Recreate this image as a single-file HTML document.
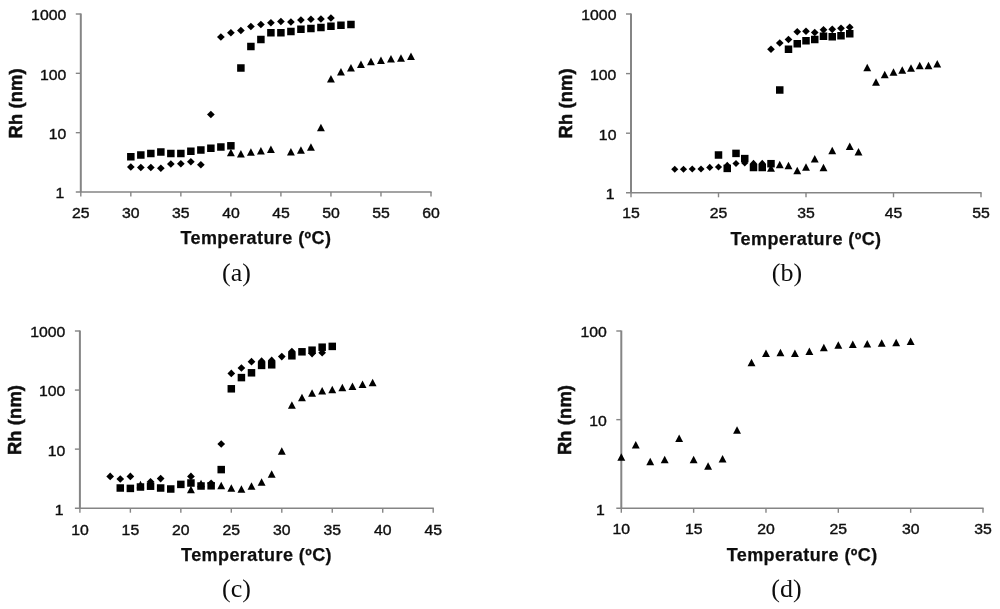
<!DOCTYPE html>
<html><head><meta charset="utf-8"><title>Figure</title>
<style>html,body{margin:0;padding:0;background:#fff}svg{display:block}</style></head>
<body>
<svg width="1000" height="609" viewBox="0 0 1000 609">
<rect width="1000" height="609" fill="#fff"/>
<defs><filter id="b" x="0" y="0" width="100%" height="100%" filterUnits="userSpaceOnUse"><feGaussianBlur stdDeviation="0.55"/></filter></defs><g filter="url(#b)">
<g stroke="#858585" fill="none">
<path d="M80.8 13.5V192.0" stroke-width="2"/>
<path d="M75.8 192.0H431.6" stroke-width="1.6"/>
<path d="M75.8 14.00H80.8" stroke-width="1.4"/>
<path d="M75.8 73.33H80.8" stroke-width="1.4"/>
<path d="M75.8 132.67H80.8" stroke-width="1.4"/>
<path d="M80.80 192.0V196.5" stroke-width="1.4"/>
<path d="M130.83 192.0V196.5" stroke-width="1.4"/>
<path d="M180.86 192.0V196.5" stroke-width="1.4"/>
<path d="M230.89 192.0V196.5" stroke-width="1.4"/>
<path d="M280.91 192.0V196.5" stroke-width="1.4"/>
<path d="M330.94 192.0V196.5" stroke-width="1.4"/>
<path d="M380.97 192.0V196.5" stroke-width="1.4"/>
<path d="M431.00 192.0V196.5" stroke-width="1.4"/>
</g>
<g fill="#111" font-family="Liberation Sans, Arial, sans-serif" font-size="15.6" stroke="#111" stroke-width="0.42">
<text transform="translate(66.20 20.40) scale(1.012 0.95)" text-anchor="end">1000</text>
<text transform="translate(66.20 79.73) scale(1.012 0.95)" text-anchor="end">100</text>
<text transform="translate(66.20 139.07) scale(1.012 0.95)" text-anchor="end">10</text>
<text transform="translate(64.40 198.40) scale(1.012 0.95)" text-anchor="end">1</text>
<text transform="translate(80.80 217.60) scale(1.012 0.95)" text-anchor="middle">25</text>
<text transform="translate(130.83 217.60) scale(1.012 0.95)" text-anchor="middle">30</text>
<text transform="translate(180.86 217.60) scale(1.012 0.95)" text-anchor="middle">35</text>
<text transform="translate(230.89 217.60) scale(1.012 0.95)" text-anchor="middle">40</text>
<text transform="translate(280.91 217.60) scale(1.012 0.95)" text-anchor="middle">45</text>
<text transform="translate(330.94 217.60) scale(1.012 0.95)" text-anchor="middle">50</text>
<text transform="translate(380.97 217.60) scale(1.012 0.95)" text-anchor="middle">55</text>
<text transform="translate(431.00 217.60) scale(1.012 0.95)" text-anchor="middle">60</text>
</g>
<text x="255.90" y="244.30" text-anchor="middle" font-family="Liberation Sans, Arial, sans-serif" font-weight="bold" font-size="18" letter-spacing="0.42" fill="#111" stroke="#111" stroke-width="0.25">Temperature (ºC)</text>
<text transform="translate(21.5 103.4) rotate(-90)" text-anchor="middle" font-family="Liberation Sans, Arial, sans-serif" font-weight="bold" font-size="18.4" letter-spacing="0.1" fill="#111" stroke="#111" stroke-width="0.55">Rh (nm)</text>
<text x="236.5" y="281.3" text-anchor="middle" font-family="Liberation Serif, Times New Roman, serif" font-size="26" fill="#111">(a)</text>
<g fill="#000">
<path d="M130.83 163.15L134.68 167.00L130.83 170.85L126.98 167.00Z"/>
<path d="M140.83 163.65L144.68 167.50L140.83 171.35L136.98 167.50Z"/>
<path d="M150.84 163.65L154.69 167.50L150.84 171.35L146.99 167.50Z"/>
<path d="M160.85 164.40L164.70 168.25L160.85 172.10L157.00 168.25Z"/>
<path d="M170.85 160.15L174.70 164.00L170.85 167.85L167.00 164.00Z"/>
<path d="M180.86 159.90L184.71 163.75L180.86 167.60L177.01 163.75Z"/>
<path d="M190.86 157.90L194.71 161.75L190.86 165.60L187.01 161.75Z"/>
<path d="M200.87 160.90L204.72 164.75L200.87 168.60L197.02 164.75Z"/>
<path d="M210.87 110.65L214.72 114.50L210.87 118.35L207.02 114.50Z"/>
<path d="M220.88 33.15L224.73 37.00L220.88 40.85L217.03 37.00Z"/>
<path d="M230.89 28.90L234.74 32.75L230.89 36.60L227.04 32.75Z"/>
<path d="M240.89 26.65L244.74 30.50L240.89 34.35L237.04 30.50Z"/>
<path d="M250.90 22.65L254.75 26.50L250.90 30.35L247.05 26.50Z"/>
<path d="M260.90 20.65L264.75 24.50L260.90 28.35L257.05 24.50Z"/>
<path d="M270.91 18.90L274.76 22.75L270.91 26.60L267.06 22.75Z"/>
<path d="M280.91 17.65L284.76 21.50L280.91 25.35L277.06 21.50Z"/>
<path d="M290.92 18.15L294.77 22.00L290.92 25.85L287.07 22.00Z"/>
<path d="M300.93 16.15L304.78 20.00L300.93 23.85L297.08 20.00Z"/>
<path d="M310.93 15.40L314.78 19.25L310.93 23.10L307.08 19.25Z"/>
<path d="M320.94 15.15L324.79 19.00L320.94 22.85L317.09 19.00Z"/>
<path d="M330.94 14.15L334.79 18.00L330.94 21.85L327.09 18.00Z"/>
<rect x="127.08" y="153.00" width="7.5" height="7.5"/>
<rect x="137.08" y="151.25" width="7.5" height="7.5"/>
<rect x="147.09" y="149.75" width="7.5" height="7.5"/>
<rect x="157.10" y="148.25" width="7.5" height="7.5"/>
<rect x="167.10" y="149.75" width="7.5" height="7.5"/>
<rect x="177.11" y="149.75" width="7.5" height="7.5"/>
<rect x="187.11" y="147.50" width="7.5" height="7.5"/>
<rect x="197.12" y="146.25" width="7.5" height="7.5"/>
<rect x="207.12" y="144.50" width="7.5" height="7.5"/>
<rect x="217.13" y="143.25" width="7.5" height="7.5"/>
<rect x="227.14" y="142.05" width="7.5" height="7.5"/>
<rect x="237.14" y="64.25" width="7.5" height="7.5"/>
<rect x="247.15" y="42.75" width="7.5" height="7.5"/>
<rect x="257.15" y="35.75" width="7.5" height="7.5"/>
<rect x="267.16" y="29.00" width="7.5" height="7.5"/>
<rect x="277.16" y="29.00" width="7.5" height="7.5"/>
<rect x="287.17" y="27.75" width="7.5" height="7.5"/>
<rect x="297.18" y="25.50" width="7.5" height="7.5"/>
<rect x="307.18" y="24.75" width="7.5" height="7.5"/>
<rect x="317.19" y="23.75" width="7.5" height="7.5"/>
<rect x="327.19" y="22.50" width="7.5" height="7.5"/>
<rect x="337.20" y="21.50" width="7.5" height="7.5"/>
<rect x="347.20" y="20.75" width="7.5" height="7.5"/>
<path d="M230.89 148.85L234.84 156.35L226.94 156.35Z"/>
<path d="M240.89 150.00L244.84 157.50L236.94 157.50Z"/>
<path d="M250.90 148.25L254.85 155.75L246.95 155.75Z"/>
<path d="M260.90 147.00L264.85 154.50L256.95 154.50Z"/>
<path d="M270.91 145.50L274.86 153.00L266.96 153.00Z"/>
<path d="M290.92 148.00L294.87 155.50L286.97 155.50Z"/>
<path d="M300.93 146.25L304.88 153.75L296.98 153.75Z"/>
<path d="M310.93 143.25L314.88 150.75L306.98 150.75Z"/>
<path d="M320.94 123.75L324.89 131.25L316.99 131.25Z"/>
<path d="M330.94 75.00L334.89 82.50L326.99 82.50Z"/>
<path d="M340.95 68.00L344.90 75.50L337.00 75.50Z"/>
<path d="M350.95 64.00L354.90 71.50L347.00 71.50Z"/>
<path d="M360.96 60.50L364.91 68.00L357.01 68.00Z"/>
<path d="M370.97 57.75L374.92 65.25L367.02 65.25Z"/>
<path d="M380.97 56.50L384.92 64.00L377.02 64.00Z"/>
<path d="M390.98 55.00L394.93 62.50L387.03 62.50Z"/>
<path d="M400.98 54.25L404.93 61.75L397.03 61.75Z"/>
<path d="M410.99 52.50L414.94 60.00L407.04 60.00Z"/>
</g>
<g stroke="#858585" fill="none">
<path d="M631 13.5V192.8" stroke-width="2"/>
<path d="M626 192.8H981.6" stroke-width="1.6"/>
<path d="M626 14.00H631" stroke-width="1.4"/>
<path d="M626 73.60H631" stroke-width="1.4"/>
<path d="M626 133.20H631" stroke-width="1.4"/>
<path d="M631.00 192.8V197.3" stroke-width="1.4"/>
<path d="M718.50 192.8V197.3" stroke-width="1.4"/>
<path d="M806.00 192.8V197.3" stroke-width="1.4"/>
<path d="M893.50 192.8V197.3" stroke-width="1.4"/>
<path d="M981.00 192.8V197.3" stroke-width="1.4"/>
</g>
<g fill="#111" font-family="Liberation Sans, Arial, sans-serif" font-size="15.6" stroke="#111" stroke-width="0.42">
<text transform="translate(616.40 20.40) scale(1.012 0.95)" text-anchor="end">1000</text>
<text transform="translate(616.40 80.00) scale(1.012 0.95)" text-anchor="end">100</text>
<text transform="translate(616.40 139.60) scale(1.012 0.95)" text-anchor="end">10</text>
<text transform="translate(614.60 199.20) scale(1.012 0.95)" text-anchor="end">1</text>
<text transform="translate(631.00 218.40) scale(1.012 0.95)" text-anchor="middle">15</text>
<text transform="translate(718.50 218.40) scale(1.012 0.95)" text-anchor="middle">25</text>
<text transform="translate(806.00 218.40) scale(1.012 0.95)" text-anchor="middle">35</text>
<text transform="translate(893.50 218.40) scale(1.012 0.95)" text-anchor="middle">45</text>
<text transform="translate(981.00 218.40) scale(1.012 0.95)" text-anchor="middle">55</text>
</g>
<text x="806.00" y="245.10" text-anchor="middle" font-family="Liberation Sans, Arial, sans-serif" font-weight="bold" font-size="18" letter-spacing="0.42" fill="#111" stroke="#111" stroke-width="0.25">Temperature (ºC)</text>
<text transform="translate(571.5 103.4) rotate(-90)" text-anchor="middle" font-family="Liberation Sans, Arial, sans-serif" font-weight="bold" font-size="18.4" letter-spacing="0.1" fill="#111" stroke="#111" stroke-width="0.55">Rh (nm)</text>
<text x="787" y="281.3" text-anchor="middle" font-family="Liberation Serif, Times New Roman, serif" font-size="26" fill="#111">(b)</text>
<g fill="#000">
<path d="M674.75 165.65L678.30 169.20L674.75 172.75L671.20 169.20Z"/>
<path d="M683.50 165.65L687.05 169.20L683.50 172.75L679.95 169.20Z"/>
<path d="M692.25 165.45L695.80 169.00L692.25 172.55L688.70 169.00Z"/>
<path d="M701.00 165.45L704.55 169.00L701.00 172.55L697.45 169.00Z"/>
<path d="M709.75 163.85L713.30 167.40L709.75 170.95L706.20 167.40Z"/>
<path d="M718.50 163.45L722.05 167.00L718.50 170.55L714.95 167.00Z"/>
<path d="M727.25 161.85L730.80 165.40L727.25 168.95L723.70 165.40Z"/>
<path d="M736.00 159.95L739.55 163.50L736.00 167.05L732.45 163.50Z"/>
<path d="M744.75 159.35L748.30 162.90L744.75 166.45L741.20 162.90Z"/>
<path d="M753.50 159.85L757.05 163.40L753.50 166.95L749.95 163.40Z"/>
<path d="M762.25 159.85L765.80 163.40L762.25 166.95L758.70 163.40Z"/>
<path d="M771.00 45.40L774.85 49.25L771.00 53.10L767.15 49.25Z"/>
<path d="M779.75 39.15L783.60 43.00L779.75 46.85L775.90 43.00Z"/>
<path d="M788.50 35.65L792.35 39.50L788.50 43.35L784.65 39.50Z"/>
<path d="M797.25 27.90L801.10 31.75L797.25 35.60L793.40 31.75Z"/>
<path d="M806.00 27.40L809.85 31.25L806.00 35.10L802.15 31.25Z"/>
<path d="M814.75 28.65L818.60 32.50L814.75 36.35L810.90 32.50Z"/>
<path d="M823.50 25.95L827.35 29.80L823.50 33.65L819.65 29.80Z"/>
<path d="M832.25 25.45L836.10 29.30L832.25 33.15L828.40 29.30Z"/>
<path d="M841.00 24.45L844.85 28.30L841.00 32.15L837.15 28.30Z"/>
<path d="M849.75 23.45L853.60 27.30L849.75 31.15L845.90 27.30Z"/>
<rect x="714.75" y="151.25" width="7.5" height="7.5"/>
<rect x="723.50" y="164.65" width="7.5" height="7.5"/>
<rect x="732.25" y="149.65" width="7.5" height="7.5"/>
<rect x="741.00" y="154.85" width="7.5" height="7.5"/>
<rect x="749.75" y="163.75" width="7.5" height="7.5"/>
<rect x="758.50" y="163.75" width="7.5" height="7.5"/>
<rect x="767.25" y="159.95" width="7.5" height="7.5"/>
<rect x="776.00" y="86.25" width="7.5" height="7.5"/>
<rect x="784.75" y="45.50" width="7.5" height="7.5"/>
<rect x="793.50" y="40.00" width="7.5" height="7.5"/>
<rect x="802.25" y="37.00" width="7.5" height="7.5"/>
<rect x="811.00" y="35.75" width="7.5" height="7.5"/>
<rect x="819.75" y="32.50" width="7.5" height="7.5"/>
<rect x="828.50" y="33.00" width="7.5" height="7.5"/>
<rect x="837.25" y="32.00" width="7.5" height="7.5"/>
<rect x="846.00" y="30.00" width="7.5" height="7.5"/>
<path d="M771.00 164.35L774.95 171.85L767.05 171.85Z"/>
<path d="M779.75 160.75L783.70 168.25L775.80 168.25Z"/>
<path d="M788.50 161.75L792.45 169.25L784.55 169.25Z"/>
<path d="M797.25 166.75L801.20 174.25L793.30 174.25Z"/>
<path d="M806.00 163.25L809.95 170.75L802.05 170.75Z"/>
<path d="M814.75 155.00L818.70 162.50L810.80 162.50Z"/>
<path d="M823.50 163.75L827.45 171.25L819.55 171.25Z"/>
<path d="M832.25 146.75L836.20 154.25L828.30 154.25Z"/>
<path d="M849.75 142.50L853.70 150.00L845.80 150.00Z"/>
<path d="M858.50 148.00L862.45 155.50L854.55 155.50Z"/>
<path d="M867.25 63.75L871.20 71.25L863.30 71.25Z"/>
<path d="M876.00 78.25L879.95 85.75L872.05 85.75Z"/>
<path d="M884.75 70.75L888.70 78.25L880.80 78.25Z"/>
<path d="M893.50 68.25L897.45 75.75L889.55 75.75Z"/>
<path d="M902.25 66.25L906.20 73.75L898.30 73.75Z"/>
<path d="M911.00 64.25L914.95 71.75L907.05 71.75Z"/>
<path d="M919.75 61.75L923.70 69.25L915.80 69.25Z"/>
<path d="M928.50 61.75L932.45 69.25L924.55 69.25Z"/>
<path d="M937.25 60.00L941.20 67.50L933.30 67.50Z"/>
</g>
<g stroke="#858585" fill="none">
<path d="M79.9 330.5V508.2" stroke-width="2"/>
<path d="M74.9 508.2H433.8" stroke-width="1.6"/>
<path d="M74.9 331.00H79.9" stroke-width="1.4"/>
<path d="M74.9 390.07H79.9" stroke-width="1.4"/>
<path d="M74.9 449.13H79.9" stroke-width="1.4"/>
<path d="M79.90 508.2V512.7" stroke-width="1.4"/>
<path d="M130.37 508.2V512.7" stroke-width="1.4"/>
<path d="M180.84 508.2V512.7" stroke-width="1.4"/>
<path d="M231.31 508.2V512.7" stroke-width="1.4"/>
<path d="M281.79 508.2V512.7" stroke-width="1.4"/>
<path d="M332.26 508.2V512.7" stroke-width="1.4"/>
<path d="M382.73 508.2V512.7" stroke-width="1.4"/>
<path d="M433.20 508.2V512.7" stroke-width="1.4"/>
</g>
<g fill="#111" font-family="Liberation Sans, Arial, sans-serif" font-size="15.6" stroke="#111" stroke-width="0.42">
<text transform="translate(65.30 337.40) scale(1.012 0.95)" text-anchor="end">1000</text>
<text transform="translate(65.30 396.47) scale(1.012 0.95)" text-anchor="end">100</text>
<text transform="translate(65.30 455.53) scale(1.012 0.95)" text-anchor="end">10</text>
<text transform="translate(63.50 514.60) scale(1.012 0.95)" text-anchor="end">1</text>
<text transform="translate(79.90 535.00) scale(1.012 0.95)" text-anchor="middle">10</text>
<text transform="translate(130.37 535.00) scale(1.012 0.95)" text-anchor="middle">15</text>
<text transform="translate(180.84 535.00) scale(1.012 0.95)" text-anchor="middle">20</text>
<text transform="translate(231.31 535.00) scale(1.012 0.95)" text-anchor="middle">25</text>
<text transform="translate(281.79 535.00) scale(1.012 0.95)" text-anchor="middle">30</text>
<text transform="translate(332.26 535.00) scale(1.012 0.95)" text-anchor="middle">35</text>
<text transform="translate(382.73 535.00) scale(1.012 0.95)" text-anchor="middle">40</text>
<text transform="translate(433.20 535.00) scale(1.012 0.95)" text-anchor="middle">45</text>
</g>
<text x="256.55" y="560.50" text-anchor="middle" font-family="Liberation Sans, Arial, sans-serif" font-weight="bold" font-size="18" letter-spacing="0.42" fill="#111" stroke="#111" stroke-width="0.25">Temperature (ºC)</text>
<text transform="translate(20.5 420) rotate(-90)" text-anchor="middle" font-family="Liberation Sans, Arial, sans-serif" font-weight="bold" font-size="18.4" letter-spacing="0.1" fill="#111" stroke="#111" stroke-width="0.55">Rh (nm)</text>
<text x="236.5" y="597" text-anchor="middle" font-family="Liberation Serif, Times New Roman, serif" font-size="26" fill="#111">(c)</text>
<g fill="#000">
<path d="M110.18 472.55L114.03 476.40L110.18 480.25L106.33 476.40Z"/>
<path d="M120.28 475.15L124.13 479.00L120.28 482.85L116.43 479.00Z"/>
<path d="M130.37 472.55L134.22 476.40L130.37 480.25L126.52 476.40Z"/>
<path d="M150.56 477.95L154.41 481.80L150.56 485.65L146.71 481.80Z"/>
<path d="M160.65 474.75L164.50 478.60L160.65 482.45L156.80 478.60Z"/>
<path d="M190.94 472.55L194.79 476.40L190.94 480.25L187.09 476.40Z"/>
<path d="M211.13 479.45L214.98 483.30L211.13 487.15L207.28 483.30Z"/>
<path d="M221.22 440.15L225.07 444.00L221.22 447.85L217.37 444.00Z"/>
<path d="M231.31 369.55L235.16 373.40L231.31 377.25L227.46 373.40Z"/>
<path d="M241.41 364.15L245.26 368.00L241.41 371.85L237.56 368.00Z"/>
<path d="M251.50 357.85L255.35 361.70L251.50 365.55L247.65 361.70Z"/>
<path d="M261.60 357.35L265.45 361.20L261.60 365.05L257.75 361.20Z"/>
<path d="M271.69 356.55L275.54 360.40L271.69 364.25L267.84 360.40Z"/>
<path d="M281.79 352.75L285.64 356.60L281.79 360.45L277.94 356.60Z"/>
<path d="M291.88 347.75L295.73 351.60L291.88 355.45L288.03 351.60Z"/>
<path d="M312.07 349.75L315.92 353.60L312.07 357.45L308.22 353.60Z"/>
<path d="M322.16 348.85L326.01 352.70L322.16 356.55L318.31 352.70Z"/>
<rect x="116.53" y="484.25" width="7.5" height="7.5"/>
<rect x="126.62" y="484.65" width="7.5" height="7.5"/>
<rect x="136.72" y="483.25" width="7.5" height="7.5"/>
<rect x="146.81" y="482.45" width="7.5" height="7.5"/>
<rect x="156.90" y="484.25" width="7.5" height="7.5"/>
<rect x="167.00" y="485.25" width="7.5" height="7.5"/>
<rect x="177.09" y="480.65" width="7.5" height="7.5"/>
<rect x="187.19" y="479.25" width="7.5" height="7.5"/>
<rect x="197.28" y="482.25" width="7.5" height="7.5"/>
<rect x="207.38" y="482.05" width="7.5" height="7.5"/>
<rect x="217.47" y="465.85" width="7.5" height="7.5"/>
<rect x="227.56" y="385.05" width="7.5" height="7.5"/>
<rect x="237.66" y="373.85" width="7.5" height="7.5"/>
<rect x="247.75" y="369.05" width="7.5" height="7.5"/>
<rect x="257.85" y="361.65" width="7.5" height="7.5"/>
<rect x="267.94" y="361.05" width="7.5" height="7.5"/>
<rect x="288.13" y="352.05" width="7.5" height="7.5"/>
<rect x="298.22" y="348.05" width="7.5" height="7.5"/>
<rect x="308.32" y="346.45" width="7.5" height="7.5"/>
<rect x="318.41" y="343.45" width="7.5" height="7.5"/>
<rect x="328.51" y="342.65" width="7.5" height="7.5"/>
<path d="M140.47 480.75L144.42 488.25L136.52 488.25Z"/>
<path d="M190.94 485.75L194.89 493.25L186.99 493.25Z"/>
<path d="M201.03 479.75L204.98 487.25L197.08 487.25Z"/>
<path d="M221.22 481.85L225.17 489.35L217.27 489.35Z"/>
<path d="M231.31 484.25L235.26 491.75L227.36 491.75Z"/>
<path d="M241.41 485.25L245.36 492.75L237.46 492.75Z"/>
<path d="M251.50 482.25L255.45 489.75L247.55 489.75Z"/>
<path d="M261.60 478.25L265.55 485.75L257.65 485.75Z"/>
<path d="M271.69 470.25L275.64 477.75L267.74 477.75Z"/>
<path d="M281.79 447.25L285.74 454.75L277.84 454.75Z"/>
<path d="M291.88 401.25L295.83 408.75L287.93 408.75Z"/>
<path d="M301.97 393.75L305.92 401.25L298.02 401.25Z"/>
<path d="M312.07 389.25L316.02 396.75L308.12 396.75Z"/>
<path d="M322.16 387.00L326.11 394.50L318.21 394.50Z"/>
<path d="M332.26 385.75L336.21 393.25L328.31 393.25Z"/>
<path d="M342.35 383.75L346.30 391.25L338.40 391.25Z"/>
<path d="M352.45 382.50L356.40 390.00L348.50 390.00Z"/>
<path d="M362.54 380.50L366.49 388.00L358.59 388.00Z"/>
<path d="M372.63 378.75L376.58 386.25L368.68 386.25Z"/>
</g>
<g stroke="#858585" fill="none">
<path d="M621.3 330.5V508.3" stroke-width="2"/>
<path d="M616.3 508.3H983.6" stroke-width="1.6"/>
<path d="M616.3 331.00H621.3" stroke-width="1.4"/>
<path d="M616.3 419.65H621.3" stroke-width="1.4"/>
<path d="M621.30 508.3V512.8" stroke-width="1.4"/>
<path d="M693.64 508.3V512.8" stroke-width="1.4"/>
<path d="M765.98 508.3V512.8" stroke-width="1.4"/>
<path d="M838.32 508.3V512.8" stroke-width="1.4"/>
<path d="M910.66 508.3V512.8" stroke-width="1.4"/>
<path d="M983.00 508.3V512.8" stroke-width="1.4"/>
</g>
<g fill="#111" font-family="Liberation Sans, Arial, sans-serif" font-size="15.6" stroke="#111" stroke-width="0.42">
<text transform="translate(606.70 337.40) scale(1.012 0.95)" text-anchor="end">100</text>
<text transform="translate(606.70 426.05) scale(1.012 0.95)" text-anchor="end">10</text>
<text transform="translate(604.90 514.70) scale(1.012 0.95)" text-anchor="end">1</text>
<text transform="translate(621.30 534.40) scale(1.012 0.95)" text-anchor="middle">10</text>
<text transform="translate(693.64 534.40) scale(1.012 0.95)" text-anchor="middle">15</text>
<text transform="translate(765.98 534.40) scale(1.012 0.95)" text-anchor="middle">20</text>
<text transform="translate(838.32 534.40) scale(1.012 0.95)" text-anchor="middle">25</text>
<text transform="translate(910.66 534.40) scale(1.012 0.95)" text-anchor="middle">30</text>
<text transform="translate(983.00 534.40) scale(1.012 0.95)" text-anchor="middle">35</text>
</g>
<text x="802.15" y="560.60" text-anchor="middle" font-family="Liberation Sans, Arial, sans-serif" font-weight="bold" font-size="18" letter-spacing="0.42" fill="#111" stroke="#111" stroke-width="0.25">Temperature (ºC)</text>
<text transform="translate(570.5 420) rotate(-90)" text-anchor="middle" font-family="Liberation Sans, Arial, sans-serif" font-weight="bold" font-size="18.4" letter-spacing="0.1" fill="#111" stroke="#111" stroke-width="0.55">Rh (nm)</text>
<text x="786.5" y="597" text-anchor="middle" font-family="Liberation Serif, Times New Roman, serif" font-size="26" fill="#111">(d)</text>
<g fill="#000">
<path d="M621.30 453.25L625.25 460.75L617.35 460.75Z"/>
<path d="M635.77 440.95L639.72 448.45L631.82 448.45Z"/>
<path d="M650.24 457.75L654.19 465.25L646.29 465.25Z"/>
<path d="M664.70 455.75L668.65 463.25L660.75 463.25Z"/>
<path d="M679.17 434.55L683.12 442.05L675.22 442.05Z"/>
<path d="M693.64 455.75L697.59 463.25L689.69 463.25Z"/>
<path d="M708.11 462.25L712.06 469.75L704.16 469.75Z"/>
<path d="M722.58 455.00L726.53 462.50L718.63 462.50Z"/>
<path d="M737.04 426.25L740.99 433.75L733.09 433.75Z"/>
<path d="M751.51 358.75L755.46 366.25L747.56 366.25Z"/>
<path d="M765.98 349.50L769.93 357.00L762.03 357.00Z"/>
<path d="M780.45 348.75L784.40 356.25L776.50 356.25Z"/>
<path d="M794.92 349.50L798.87 357.00L790.97 357.00Z"/>
<path d="M809.38 347.50L813.33 355.00L805.43 355.00Z"/>
<path d="M823.85 343.75L827.80 351.25L819.90 351.25Z"/>
<path d="M838.32 341.25L842.27 348.75L834.37 348.75Z"/>
<path d="M852.79 340.50L856.74 348.00L848.84 348.00Z"/>
<path d="M867.26 340.00L871.21 347.50L863.31 347.50Z"/>
<path d="M881.72 339.25L885.67 346.75L877.77 346.75Z"/>
<path d="M896.19 338.75L900.14 346.25L892.24 346.25Z"/>
<path d="M910.66 337.50L914.61 345.00L906.71 345.00Z"/>
</g>
</g></svg>
</body></html>
